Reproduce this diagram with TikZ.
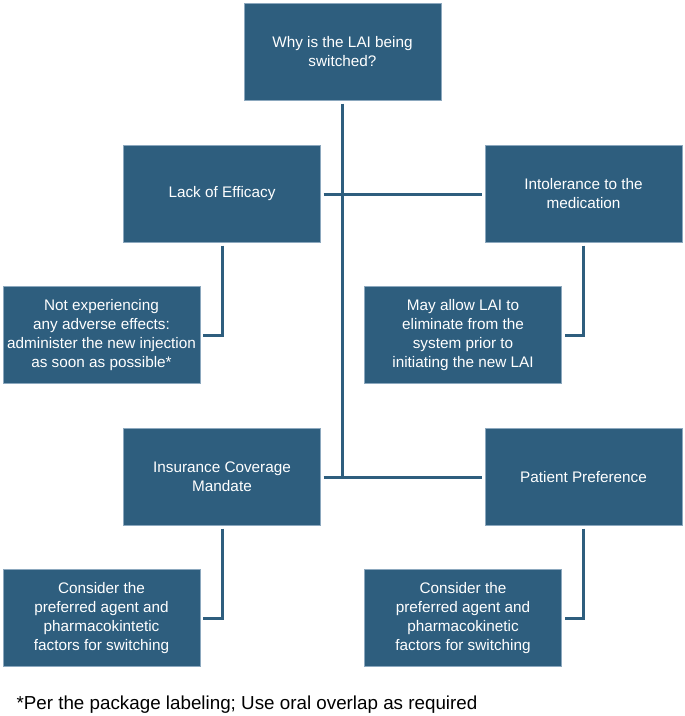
\documentclass[tikz,border=0pt]{standalone}
\usepackage{fontspec}
\setmainfont{Liberation Sans}
\usepackage{xcolor}
\definecolor{boxblue}{RGB}{46,94,126}
\definecolor{boxedge}{RGB}{140,168,190}

\begin{document}
\begin{tikzpicture}[x=1pt, y=-1pt,
    block/.style={
            draw=boxedge,
            line width=0.6pt,
            fill=boxblue,
            rectangle,
            text=white,
            align=center,
            minimum height=97pt,
            minimum width=197pt,
            outer sep=3pt,
            font=\fontsize{15.3}{19}\selectfont
        },
        link/.style={draw=boxblue, line width=3pt},
        note/.style={anchor=west, font=\fontsize{18.8}{22}\selectfont}
]
    \useasboundingbox (0,0) rectangle (685,716);

    \node [block] (why) at (342.5,52) {Why is the LAI being\\switched?};
    \node [block, below of=why, node distance=142pt, xshift=-120.5pt] (efficacy) {Lack of Efficacy};
    \node [block, right of=efficacy, node distance=361.5pt] (intolerance) {Intolerance to the\\medication};

    \node [block, below of=efficacy, node distance=141pt, xshift=-120.5pt] (noadverse) {Not experiencing\\any adverse effects:\\administer the new injection\\as soon as possible*};
    \node [block, right of=noadverse, node distance=361.5pt] (washout) {May allow LAI to\\eliminate from the\\system prior to\\initiating the new LAI};

    \node [block, below of=efficacy, node distance=283pt] (insurance) {Insurance Coverage\\Mandate};
    \node [block, right of=insurance, node distance=361.5pt] (preference) {Patient Preference};

    \node [block, below of=noadverse, node distance=283pt] (agentL) {Consider the\\preferred agent and\\pharmacokintetic\\factors for switching};
    \node [block, right of=agentL, node distance=361.5pt] (agentR) {Consider the\\preferred agent and\\pharmacokinetic\\factors for switching};

    \coordinate (trunk) at (why.south |- insurance.east);

    \draw [link] (why.south) -- (trunk);
    \draw [link] (efficacy.east) -- (intolerance.west);
    \draw [link] (insurance.east) -- (preference.west);
    \draw [link] (efficacy.south) |- (noadverse.east);
    \draw [link] (intolerance.south) |- (washout.east);
    \draw [link] (insurance.south) |- (agentL.east);
    \draw [link] (preference.south) |- (agentR.east);

    \node [note] (footnote) at (13,705) {*Per the package labeling; Use oral overlap as required};
\end{tikzpicture}
\end{document}
